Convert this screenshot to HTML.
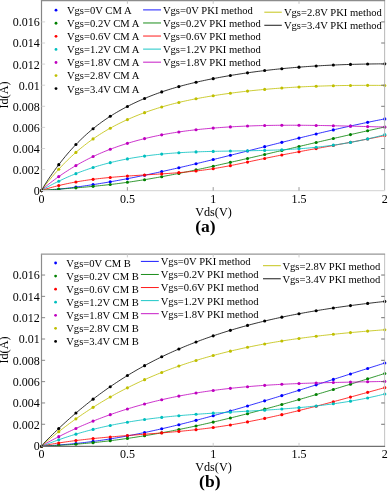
<!DOCTYPE html>
<html><head><meta charset="utf-8"><style>
html,body{margin:0;padding:0;background:#fff;}
svg{display:block;}
text{font-family:"Liberation Serif","Times New Roman",serif;fill:#000;}
.tk text{font-size:12px;}
.lg text{font-size:10.6px;}
.al{font-size:12.2px;}
.pl{font-size:17.5px;font-weight:bold;}
</style></head><body>
<svg width="388" height="491" viewBox="0 0 388 491">
<defs><filter id="bl" x="0" y="0" width="1" height="1"><feGaussianBlur stdDeviation="0.3"/></filter></defs>
<rect width="388" height="491" fill="#fff"/>
<g filter="url(#bl)">
<rect width="388" height="491" fill="#fff"/>
<polyline points="41.60,190.60 43.75,190.65 45.89,190.46 48.04,190.26 50.18,190.06 52.33,189.85 54.47,189.63 56.62,189.41 58.76,189.18 60.91,188.94 63.05,188.70 65.20,188.45 67.34,188.19 69.48,187.93 71.63,187.66 73.78,187.38 75.92,187.10 78.06,186.81 80.21,186.52 82.36,186.22 84.50,185.91 86.65,185.60 88.79,185.28 90.94,184.96 93.08,184.63 95.22,184.30 97.37,183.96 99.52,183.61 101.66,183.26 103.81,182.91 105.95,182.55 108.09,182.18 110.24,181.81 112.38,181.44 114.53,181.06 116.68,180.67 118.82,180.28 120.97,179.89 123.11,179.49 125.25,179.08 127.40,178.68 129.55,178.26 131.69,177.85 133.84,177.43 135.98,177.00 138.12,176.57 140.27,176.14 142.41,175.70 144.56,175.26 146.71,174.82 148.85,174.37 151.00,173.92 153.14,173.46 155.29,173.00 157.43,172.54 159.57,172.07 161.72,171.61 163.87,171.13 166.01,170.66 168.16,170.18 170.30,169.70 172.44,169.21 174.59,168.73 176.74,168.24 178.88,167.75 181.02,167.25 183.17,166.75 185.31,166.25 187.46,165.75 189.60,165.24 191.75,164.74 193.90,164.23 196.04,163.72 198.19,163.20 200.33,162.69 202.47,162.17 204.62,161.65 206.76,161.13 208.91,160.61 211.06,160.08 213.20,159.56 215.34,159.03 217.49,158.50 219.63,157.97 221.78,157.44 223.92,156.91 226.07,156.37 228.22,155.84 230.36,155.30 232.50,154.77 234.65,154.23 236.79,153.69 238.94,153.15 241.09,152.62 243.23,152.08 245.38,151.54 247.52,151.00 249.67,150.45 251.81,149.91 253.95,149.37 256.10,148.83 258.25,148.29 260.39,147.75 262.54,147.21 264.68,146.67 266.82,146.12 268.97,145.58 271.12,145.04 273.26,144.50 275.41,143.97 277.55,143.43 279.70,142.89 281.84,142.35 283.99,141.82 286.13,141.28 288.27,140.75 290.42,140.21 292.56,139.68 294.71,139.15 296.86,138.62 299.00,138.09 301.15,137.57 303.29,137.04 305.44,136.52 307.58,136.00 309.73,135.48 311.87,134.96 314.02,134.44 316.16,133.93 318.31,133.41 320.45,132.90 322.60,132.40 324.74,131.89 326.89,131.39 329.03,130.88 331.18,130.38 333.32,129.89 335.47,129.39 337.61,128.90 339.75,128.41 341.90,127.93 344.05,127.44 346.19,126.96 348.34,126.49 350.48,126.01 352.62,125.54 354.77,125.07 356.92,124.61 359.06,124.15 361.21,123.69 363.35,123.24 365.50,122.79 367.64,122.34 369.79,121.90 371.93,121.46 374.07,121.02 376.22,120.59 378.37,120.16 380.51,119.74 382.66,119.32 384.80,118.91" fill="none" stroke="#0000ff" stroke-width="0.8"/>
<g fill="#0000ff"><circle cx="41.60" cy="190.60" r="1.55"/><circle cx="58.76" cy="189.18" r="1.55"/><circle cx="75.92" cy="187.10" r="1.55"/><circle cx="93.08" cy="184.63" r="1.55"/><circle cx="110.24" cy="181.81" r="1.55"/><circle cx="127.40" cy="178.68" r="1.55"/><circle cx="144.56" cy="175.26" r="1.55"/><circle cx="161.72" cy="171.61" r="1.55"/><circle cx="178.88" cy="167.75" r="1.55"/><circle cx="196.04" cy="163.72" r="1.55"/><circle cx="213.20" cy="159.56" r="1.55"/><circle cx="230.36" cy="155.30" r="1.55"/><circle cx="247.52" cy="151.00" r="1.55"/><circle cx="264.68" cy="146.67" r="1.55"/><circle cx="281.84" cy="142.35" r="1.55"/><circle cx="299.00" cy="138.09" r="1.55"/><circle cx="316.16" cy="133.93" r="1.55"/><circle cx="333.32" cy="129.89" r="1.55"/><circle cx="350.48" cy="126.01" r="1.55"/><circle cx="367.64" cy="122.34" r="1.55"/><circle cx="384.80" cy="118.91" r="1.55"/></g>
<polyline points="41.60,190.60 43.75,190.02 45.89,189.90 48.04,189.78 50.18,189.65 52.33,189.52 54.47,189.39 56.62,189.25 58.76,189.12 60.91,188.97 63.05,188.83 65.20,188.68 67.34,188.52 69.48,188.37 71.63,188.21 73.78,188.04 75.92,187.87 78.06,187.70 80.21,187.52 82.36,187.34 84.50,187.15 86.65,186.96 88.79,186.76 90.94,186.56 93.08,186.36 95.22,186.15 97.37,185.93 99.52,185.71 101.66,185.48 103.81,185.25 105.95,185.01 108.09,184.77 110.24,184.52 112.38,184.26 114.53,184.00 116.68,183.74 118.82,183.46 120.97,183.18 123.11,182.90 125.25,182.60 127.40,182.30 129.55,182.00 131.69,181.69 133.84,181.37 135.98,181.04 138.12,180.71 140.27,180.37 142.41,180.03 144.56,179.68 146.71,179.33 148.85,178.97 151.00,178.60 153.14,178.23 155.29,177.85 157.43,177.47 159.57,177.09 161.72,176.70 163.87,176.30 166.01,175.90 168.16,175.49 170.30,175.09 172.44,174.67 174.59,174.25 176.74,173.83 178.88,173.41 181.02,172.98 183.17,172.55 185.31,172.11 187.46,171.67 189.60,171.23 191.75,170.78 193.90,170.34 196.04,169.88 198.19,169.43 200.33,168.97 202.47,168.51 204.62,168.05 206.76,167.59 208.91,167.12 211.06,166.66 213.20,166.19 215.34,165.72 217.49,165.24 219.63,164.77 221.78,164.29 223.92,163.81 226.07,163.33 228.22,162.85 230.36,162.37 232.50,161.89 234.65,161.40 236.79,160.92 238.94,160.43 241.09,159.94 243.23,159.45 245.38,158.96 247.52,158.47 249.67,157.98 251.81,157.49 253.95,156.99 256.10,156.50 258.25,156.00 260.39,155.50 262.54,155.01 264.68,154.51 266.82,154.01 268.97,153.51 271.12,153.01 273.26,152.51 275.41,152.01 277.55,151.51 279.70,151.01 281.84,150.51 283.99,150.01 286.13,149.50 288.27,149.00 290.42,148.50 292.56,148.00 294.71,147.50 296.86,146.99 299.00,146.49 301.15,145.99 303.29,145.49 305.44,144.99 307.58,144.49 309.73,143.98 311.87,143.48 314.02,142.98 316.16,142.48 318.31,141.99 320.45,141.49 322.60,140.99 324.74,140.49 326.89,140.00 329.03,139.50 331.18,139.01 333.32,138.51 335.47,138.02 337.61,137.53 339.75,137.04 341.90,136.55 344.05,136.06 346.19,135.57 348.34,135.08 350.48,134.60 352.62,134.11 354.77,133.63 356.92,133.15 359.06,132.67 361.21,132.19 363.35,131.71 365.50,131.24 367.64,130.76 369.79,130.29 371.93,129.82 374.07,129.35 376.22,128.88 378.37,128.42 380.51,127.95 382.66,127.49 384.80,127.03" fill="none" stroke="#008000" stroke-width="0.8"/>
<g fill="#008000"><circle cx="41.60" cy="190.60" r="1.55"/><circle cx="58.76" cy="189.12" r="1.55"/><circle cx="75.92" cy="187.87" r="1.55"/><circle cx="93.08" cy="186.36" r="1.55"/><circle cx="110.24" cy="184.52" r="1.55"/><circle cx="127.40" cy="182.30" r="1.55"/><circle cx="144.56" cy="179.68" r="1.55"/><circle cx="161.72" cy="176.70" r="1.55"/><circle cx="178.88" cy="173.41" r="1.55"/><circle cx="196.04" cy="169.88" r="1.55"/><circle cx="213.20" cy="166.19" r="1.55"/><circle cx="230.36" cy="162.37" r="1.55"/><circle cx="247.52" cy="158.47" r="1.55"/><circle cx="264.68" cy="154.51" r="1.55"/><circle cx="281.84" cy="150.51" r="1.55"/><circle cx="299.00" cy="146.49" r="1.55"/><circle cx="316.16" cy="142.48" r="1.55"/><circle cx="333.32" cy="138.51" r="1.55"/><circle cx="350.48" cy="134.60" r="1.55"/><circle cx="367.64" cy="130.76" r="1.55"/><circle cx="384.80" cy="127.03" r="1.55"/></g>
<polyline points="41.60,190.60 43.75,189.66 45.89,189.02 48.04,188.39 50.18,187.78 52.33,187.20 54.47,186.63 56.62,186.08 58.76,185.56 60.91,185.05 63.05,184.56 65.20,184.08 67.34,183.63 69.48,183.19 71.63,182.77 73.78,182.36 75.92,181.97 78.06,181.59 80.21,181.23 82.36,180.88 84.50,180.55 86.65,180.23 88.79,179.92 90.94,179.63 93.08,179.34 95.22,179.07 97.37,178.81 99.52,178.56 101.66,178.32 103.81,178.09 105.95,177.87 108.09,177.66 110.24,177.45 112.38,177.26 114.53,177.07 116.68,176.89 118.82,176.71 120.97,176.54 123.11,176.38 125.25,176.22 127.40,176.07 129.55,175.92 131.69,175.77 133.84,175.63 135.98,175.49 138.12,175.35 140.27,175.22 142.41,175.09 144.56,174.96 146.71,174.82 148.85,174.69 151.00,174.56 153.14,174.43 155.29,174.30 157.43,174.17 159.57,174.03 161.72,173.89 163.87,173.75 166.01,173.61 168.16,173.46 170.30,173.30 172.44,173.15 174.59,172.99 176.74,172.82 178.88,172.64 181.02,172.46 183.17,172.28 185.31,172.08 187.46,171.88 189.60,171.67 191.75,171.45 193.90,171.22 196.04,170.99 198.19,170.74 200.33,170.48 202.47,170.21 204.62,169.93 206.76,169.64 208.91,169.34 211.06,169.02 213.20,168.69 215.34,168.35 217.49,167.99 219.63,167.62 221.78,167.24 223.92,166.85 226.07,166.45 228.22,166.04 230.36,165.63 232.50,165.20 234.65,164.77 236.79,164.33 238.94,163.89 241.09,163.44 243.23,162.99 245.38,162.53 247.52,162.08 249.67,161.62 251.81,161.16 253.95,160.70 256.10,160.24 258.25,159.79 260.39,159.33 262.54,158.88 264.68,158.43 266.82,157.99 268.97,157.55 271.12,157.11 273.26,156.68 275.41,156.25 277.55,155.83 279.70,155.41 281.84,154.99 283.99,154.57 286.13,154.16 288.27,153.75 290.42,153.34 292.56,152.94 294.71,152.54 296.86,152.14 299.00,151.74 301.15,151.34 303.29,150.94 305.44,150.55 307.58,150.15 309.73,149.76 311.87,149.37 314.02,148.98 316.16,148.59 318.31,148.20 320.45,147.81 322.60,147.42 324.74,147.03 326.89,146.64 329.03,146.25 331.18,145.86 333.32,145.46 335.47,145.07 337.61,144.68 339.75,144.29 341.90,143.89 344.05,143.50 346.19,143.10 348.34,142.70 350.48,142.30 352.62,141.90 354.77,141.49 356.92,141.09 359.06,140.68 361.21,140.27 363.35,139.86 365.50,139.44 367.64,139.03 369.79,138.61 371.93,138.18 374.07,137.76 376.22,137.33 378.37,136.89 380.51,136.46 382.66,136.02 384.80,135.57" fill="none" stroke="#ff0000" stroke-width="0.8"/>
<g fill="#ff0000"><circle cx="41.60" cy="190.60" r="1.55"/><circle cx="58.76" cy="185.56" r="1.55"/><circle cx="75.92" cy="181.97" r="1.55"/><circle cx="93.08" cy="179.34" r="1.55"/><circle cx="110.24" cy="177.45" r="1.55"/><circle cx="127.40" cy="176.07" r="1.55"/><circle cx="144.56" cy="174.96" r="1.55"/><circle cx="161.72" cy="173.89" r="1.55"/><circle cx="178.88" cy="172.64" r="1.55"/><circle cx="196.04" cy="170.99" r="1.55"/><circle cx="213.20" cy="168.69" r="1.55"/><circle cx="230.36" cy="165.63" r="1.55"/><circle cx="247.52" cy="162.08" r="1.55"/><circle cx="264.68" cy="158.43" r="1.55"/><circle cx="281.84" cy="154.99" r="1.55"/><circle cx="299.00" cy="151.74" r="1.55"/><circle cx="316.16" cy="148.59" r="1.55"/><circle cx="333.32" cy="145.46" r="1.55"/><circle cx="350.48" cy="142.30" r="1.55"/><circle cx="367.64" cy="139.03" r="1.55"/><circle cx="384.80" cy="135.57" r="1.55"/></g>
<polyline points="41.60,190.60 43.75,189.08 45.89,187.88 48.04,186.70 50.18,185.55 52.33,184.42 54.47,183.32 56.62,182.25 58.76,181.19 60.91,180.17 63.05,179.17 65.20,178.19 67.34,177.23 69.48,176.30 71.63,175.39 73.78,174.51 75.92,173.64 78.06,172.80 80.21,171.98 82.36,171.19 84.50,170.41 86.65,169.66 88.79,168.92 90.94,168.21 93.08,167.51 95.22,166.84 97.37,166.18 99.52,165.55 101.66,164.93 103.81,164.33 105.95,163.75 108.09,163.19 110.24,162.65 112.38,162.12 114.53,161.61 116.68,161.11 118.82,160.64 120.97,160.18 123.11,159.73 125.25,159.30 127.40,158.89 129.55,158.49 131.69,158.10 133.84,157.73 135.98,157.38 138.12,157.04 140.27,156.71 142.41,156.39 144.56,156.09 146.71,155.80 148.85,155.52 151.00,155.25 153.14,155.00 155.29,154.76 157.43,154.52 159.57,154.30 161.72,154.09 163.87,153.89 166.01,153.70 168.16,153.52 170.30,153.35 172.44,153.18 174.59,153.03 176.74,152.88 178.88,152.74 181.02,152.61 183.17,152.49 185.31,152.37 187.46,152.26 189.60,152.16 191.75,152.06 193.90,151.97 196.04,151.89 198.19,151.81 200.33,151.74 202.47,151.67 204.62,151.60 206.76,151.54 208.91,151.48 211.06,151.43 213.20,151.38 215.34,151.33 217.49,151.29 219.63,151.24 221.78,151.20 223.92,151.16 226.07,151.13 228.22,151.09 230.36,151.06 232.50,151.02 234.65,150.99 236.79,150.95 238.94,150.92 241.09,150.89 243.23,150.85 245.38,150.81 247.52,150.78 249.67,150.74 251.81,150.70 253.95,150.66 256.10,150.61 258.25,150.56 260.39,150.51 262.54,150.46 264.68,150.40 266.82,150.34 268.97,150.27 271.12,150.20 273.26,150.13 275.41,150.05 277.55,149.97 279.70,149.88 281.84,149.78 283.99,149.68 286.13,149.57 288.27,149.46 290.42,149.34 292.56,149.21 294.71,149.07 296.86,148.93 299.00,148.78 301.15,148.62 303.29,148.45 305.44,148.27 307.58,148.09 309.73,147.89 311.87,147.69 314.02,147.48 316.16,147.26 318.31,147.03 320.45,146.79 322.60,146.54 324.74,146.28 326.89,146.01 329.03,145.73 331.18,145.44 333.32,145.14 335.47,144.84 337.61,144.52 339.75,144.19 341.90,143.85 344.05,143.50 346.19,143.14 348.34,142.76 350.48,142.38 352.62,141.99 354.77,141.58 356.92,141.16 359.06,140.73 361.21,140.29 363.35,139.84 365.50,139.38 367.64,138.90 369.79,138.41 371.93,137.91 374.07,137.40 376.22,136.87 378.37,136.33 380.51,135.78 382.66,135.22 384.80,134.64" fill="none" stroke="#00bfbf" stroke-width="0.8"/>
<g fill="#00bfbf"><circle cx="41.60" cy="190.60" r="1.55"/><circle cx="58.76" cy="181.19" r="1.55"/><circle cx="75.92" cy="173.64" r="1.55"/><circle cx="93.08" cy="167.51" r="1.55"/><circle cx="110.24" cy="162.65" r="1.55"/><circle cx="127.40" cy="158.89" r="1.55"/><circle cx="144.56" cy="156.09" r="1.55"/><circle cx="161.72" cy="154.09" r="1.55"/><circle cx="178.88" cy="152.74" r="1.55"/><circle cx="196.04" cy="151.89" r="1.55"/><circle cx="213.20" cy="151.38" r="1.55"/><circle cx="230.36" cy="151.06" r="1.55"/><circle cx="247.52" cy="150.78" r="1.55"/><circle cx="264.68" cy="150.40" r="1.55"/><circle cx="281.84" cy="149.78" r="1.55"/><circle cx="299.00" cy="148.78" r="1.55"/><circle cx="316.16" cy="147.26" r="1.55"/><circle cx="333.32" cy="145.14" r="1.55"/><circle cx="350.48" cy="142.38" r="1.55"/><circle cx="367.64" cy="138.90" r="1.55"/><circle cx="384.80" cy="134.64" r="1.55"/></g>
<polyline points="41.60,190.60 43.75,188.12 45.89,186.36 48.04,184.64 50.18,182.96 52.33,181.32 54.47,179.71 56.62,178.14 58.76,176.61 60.91,175.11 63.05,173.65 65.20,172.23 67.34,170.83 69.48,169.47 71.63,168.15 73.78,166.85 75.92,165.59 78.06,164.36 80.21,163.16 82.36,161.99 84.50,160.85 86.65,159.74 88.79,158.65 90.94,157.60 93.08,156.57 95.22,155.57 97.37,154.59 99.52,153.64 101.66,152.72 103.81,151.82 105.95,150.94 108.09,150.09 110.24,149.26 112.38,148.45 114.53,147.66 116.68,146.90 118.82,146.15 120.97,145.43 123.11,144.72 125.25,144.03 127.40,143.36 129.55,142.71 131.69,142.08 133.84,141.46 135.98,140.86 138.12,140.28 140.27,139.71 142.41,139.16 144.56,138.62 146.71,138.10 148.85,137.60 151.00,137.11 153.14,136.63 155.29,136.17 157.43,135.72 159.57,135.29 161.72,134.87 163.87,134.46 166.01,134.07 168.16,133.69 170.30,133.32 172.44,132.96 174.59,132.61 176.74,132.28 178.88,131.96 181.02,131.65 183.17,131.35 185.31,131.05 187.46,130.77 189.60,130.50 191.75,130.24 193.90,129.99 196.04,129.75 198.19,129.52 200.33,129.29 202.47,129.07 204.62,128.86 206.76,128.66 208.91,128.47 211.06,128.28 213.20,128.10 215.34,127.93 217.49,127.76 219.63,127.60 221.78,127.44 223.92,127.29 226.07,127.15 228.22,127.01 230.36,126.88 232.50,126.76 234.65,126.64 236.79,126.53 238.94,126.42 241.09,126.32 243.23,126.22 245.38,126.13 247.52,126.04 249.67,125.96 251.81,125.88 253.95,125.81 256.10,125.74 258.25,125.68 260.39,125.62 262.54,125.57 264.68,125.52 266.82,125.47 268.97,125.43 271.12,125.40 273.26,125.36 275.41,125.34 277.55,125.31 279.70,125.29 281.84,125.27 283.99,125.26 286.13,125.25 288.27,125.25 290.42,125.24 292.56,125.24 294.71,125.25 296.86,125.25 299.00,125.26 301.15,125.27 303.29,125.29 305.44,125.31 307.58,125.33 309.73,125.35 311.87,125.38 314.02,125.40 316.16,125.43 318.31,125.46 320.45,125.50 322.60,125.53 324.74,125.57 326.89,125.61 329.03,125.65 331.18,125.70 333.32,125.74 335.47,125.79 337.61,125.83 339.75,125.88 341.90,125.93 344.05,125.98 346.19,126.03 348.34,126.09 350.48,126.14 352.62,126.19 354.77,126.25 356.92,126.30 359.06,126.36 361.21,126.41 363.35,126.47 365.50,126.52 367.64,126.58 369.79,126.64 371.93,126.69 374.07,126.75 376.22,126.80 378.37,126.86 380.51,126.91 382.66,126.97 384.80,127.02" fill="none" stroke="#bf00bf" stroke-width="0.8"/>
<g fill="#bf00bf"><circle cx="41.60" cy="190.60" r="1.55"/><circle cx="58.76" cy="176.61" r="1.55"/><circle cx="75.92" cy="165.59" r="1.55"/><circle cx="93.08" cy="156.57" r="1.55"/><circle cx="110.24" cy="149.26" r="1.55"/><circle cx="127.40" cy="143.36" r="1.55"/><circle cx="144.56" cy="138.62" r="1.55"/><circle cx="161.72" cy="134.87" r="1.55"/><circle cx="178.88" cy="131.96" r="1.55"/><circle cx="196.04" cy="129.75" r="1.55"/><circle cx="213.20" cy="128.10" r="1.55"/><circle cx="230.36" cy="126.88" r="1.55"/><circle cx="247.52" cy="126.04" r="1.55"/><circle cx="264.68" cy="125.52" r="1.55"/><circle cx="281.84" cy="125.27" r="1.55"/><circle cx="299.00" cy="125.26" r="1.55"/><circle cx="316.16" cy="125.43" r="1.55"/><circle cx="333.32" cy="125.74" r="1.55"/><circle cx="350.48" cy="126.14" r="1.55"/><circle cx="367.64" cy="126.58" r="1.55"/><circle cx="384.80" cy="127.02" r="1.55"/></g>
<polyline points="41.60,190.60 43.75,187.17 45.89,184.41 48.04,181.71 50.18,179.08 52.33,176.52 54.47,174.02 56.62,171.59 58.76,169.22 60.91,166.91 63.05,164.66 65.20,162.47 67.34,160.34 69.48,158.27 71.63,156.26 73.78,154.29 75.92,152.39 78.06,150.53 80.21,148.73 82.36,146.97 84.50,145.27 86.65,143.61 88.79,142.00 90.94,140.43 93.08,138.91 95.22,137.44 97.37,136.00 99.52,134.60 101.66,133.25 103.81,131.93 105.95,130.65 108.09,129.40 110.24,128.19 112.38,127.01 114.53,125.87 116.68,124.76 118.82,123.67 120.97,122.62 123.11,121.59 125.25,120.59 127.40,119.61 129.55,118.66 131.69,117.73 133.84,116.83 135.98,115.95 138.12,115.09 140.27,114.25 142.41,113.43 144.56,112.64 146.71,111.86 148.85,111.11 151.00,110.37 153.14,109.66 155.29,108.96 157.43,108.28 159.57,107.62 161.72,106.98 163.87,106.36 166.01,105.75 168.16,105.16 170.30,104.58 172.44,104.02 174.59,103.47 176.74,102.94 178.88,102.43 181.02,101.92 183.17,101.44 185.31,100.96 187.46,100.50 189.60,100.04 191.75,99.60 193.90,99.18 196.04,98.76 198.19,98.35 200.33,97.95 202.47,97.56 204.62,97.19 206.76,96.82 208.91,96.45 211.06,96.10 213.20,95.75 215.34,95.41 217.49,95.08 219.63,94.76 221.78,94.44 223.92,94.13 226.07,93.82 228.22,93.52 230.36,93.23 232.50,92.94 234.65,92.66 236.79,92.39 238.94,92.13 241.09,91.87 243.23,91.61 245.38,91.36 247.52,91.12 249.67,90.89 251.81,90.66 253.95,90.43 256.10,90.21 258.25,90.00 260.39,89.80 262.54,89.59 264.68,89.40 266.82,89.21 268.97,89.02 271.12,88.85 273.26,88.67 275.41,88.50 277.55,88.34 279.70,88.18 281.84,88.03 283.99,87.88 286.13,87.74 288.27,87.60 290.42,87.47 292.56,87.34 294.71,87.21 296.86,87.09 299.00,86.98 301.15,86.87 303.29,86.76 305.44,86.66 307.58,86.56 309.73,86.47 311.87,86.38 314.02,86.30 316.16,86.22 318.31,86.14 320.45,86.07 322.60,86.00 324.74,85.94 326.89,85.88 329.03,85.82 331.18,85.77 333.32,85.72 335.47,85.67 337.61,85.63 339.75,85.59 341.90,85.55 344.05,85.52 346.19,85.49 348.34,85.46 350.48,85.44 352.62,85.42 354.77,85.40 356.92,85.38 359.06,85.37 361.21,85.36 363.35,85.36 365.50,85.35 367.64,85.35 369.79,85.35 371.93,85.36 374.07,85.36 376.22,85.37 378.37,85.38 380.51,85.40 382.66,85.41 384.80,85.43" fill="none" stroke="#bfbf00" stroke-width="0.8"/>
<g fill="#bfbf00"><circle cx="41.60" cy="190.60" r="1.55"/><circle cx="58.76" cy="169.22" r="1.55"/><circle cx="75.92" cy="152.39" r="1.55"/><circle cx="93.08" cy="138.91" r="1.55"/><circle cx="110.24" cy="128.19" r="1.55"/><circle cx="127.40" cy="119.61" r="1.55"/><circle cx="144.56" cy="112.64" r="1.55"/><circle cx="161.72" cy="106.98" r="1.55"/><circle cx="178.88" cy="102.43" r="1.55"/><circle cx="196.04" cy="98.76" r="1.55"/><circle cx="213.20" cy="95.75" r="1.55"/><circle cx="230.36" cy="93.23" r="1.55"/><circle cx="247.52" cy="91.12" r="1.55"/><circle cx="264.68" cy="89.40" r="1.55"/><circle cx="281.84" cy="88.03" r="1.55"/><circle cx="299.00" cy="86.98" r="1.55"/><circle cx="316.16" cy="86.22" r="1.55"/><circle cx="333.32" cy="85.72" r="1.55"/><circle cx="350.48" cy="85.44" r="1.55"/><circle cx="367.64" cy="85.35" r="1.55"/><circle cx="384.80" cy="85.43" r="1.55"/></g>
<polyline points="41.60,190.60 43.75,186.47 45.89,183.10 48.04,179.81 50.18,176.61 52.33,173.50 54.47,170.47 56.62,167.53 58.76,164.67 60.91,161.89 63.05,159.19 65.20,156.57 67.34,154.02 69.48,151.54 71.63,149.14 73.78,146.81 75.92,144.54 78.06,142.35 80.21,140.22 82.36,138.15 84.50,136.14 86.65,134.20 88.79,132.31 90.94,130.48 93.08,128.71 95.22,126.99 97.37,125.32 99.52,123.70 101.66,122.13 103.81,120.60 105.95,119.13 108.09,117.69 110.24,116.30 112.38,114.95 114.53,113.63 116.68,112.36 118.82,111.12 120.97,109.91 123.11,108.73 125.25,107.59 127.40,106.47 129.55,105.38 131.69,104.32 133.84,103.28 135.98,102.27 138.12,101.28 140.27,100.32 142.41,99.38 144.56,98.46 146.71,97.57 148.85,96.70 151.00,95.85 153.14,95.02 155.29,94.22 157.43,93.43 159.57,92.67 161.72,91.92 163.87,91.20 166.01,90.49 168.16,89.80 170.30,89.13 172.44,88.47 174.59,87.83 176.74,87.21 178.88,86.61 181.02,86.01 183.17,85.44 185.31,84.87 187.46,84.33 189.60,83.79 191.75,83.27 193.90,82.76 196.04,82.26 198.19,81.77 200.33,81.29 202.47,80.83 204.62,80.37 206.76,79.92 208.91,79.48 211.06,79.05 213.20,78.63 215.34,78.22 217.49,77.81 219.63,77.41 221.78,77.01 223.92,76.63 226.07,76.25 228.22,75.88 230.36,75.51 232.50,75.15 234.65,74.80 236.79,74.46 238.94,74.12 241.09,73.79 243.23,73.46 245.38,73.15 247.52,72.83 249.67,72.53 251.81,72.23 253.95,71.94 256.10,71.65 258.25,71.37 260.39,71.10 262.54,70.83 264.68,70.57 266.82,70.32 268.97,70.07 271.12,69.82 273.26,69.58 275.41,69.35 277.55,69.13 279.70,68.91 281.84,68.69 283.99,68.48 286.13,68.28 288.27,68.08 290.42,67.88 292.56,67.70 294.71,67.51 296.86,67.34 299.00,67.16 301.15,67.00 303.29,66.84 305.44,66.68 307.58,66.53 309.73,66.38 311.87,66.24 314.02,66.10 316.16,65.96 318.31,65.84 320.45,65.71 322.60,65.59 324.74,65.48 326.89,65.37 329.03,65.26 331.18,65.16 333.32,65.06 335.47,64.97 337.61,64.88 339.75,64.79 341.90,64.71 344.05,64.63 346.19,64.56 348.34,64.49 350.48,64.42 352.62,64.36 354.77,64.30 356.92,64.25 359.06,64.20 361.21,64.15 363.35,64.11 365.50,64.06 367.64,64.03 369.79,63.99 371.93,63.96 374.07,63.93 376.22,63.91 378.37,63.89 380.51,63.87 382.66,63.85 384.80,63.84" fill="none" stroke="#000000" stroke-width="0.8"/>
<g fill="#000000"><circle cx="41.60" cy="190.60" r="1.55"/><circle cx="58.76" cy="164.67" r="1.55"/><circle cx="75.92" cy="144.54" r="1.55"/><circle cx="93.08" cy="128.71" r="1.55"/><circle cx="110.24" cy="116.30" r="1.55"/><circle cx="127.40" cy="106.47" r="1.55"/><circle cx="144.56" cy="98.46" r="1.55"/><circle cx="161.72" cy="91.92" r="1.55"/><circle cx="178.88" cy="86.61" r="1.55"/><circle cx="196.04" cy="82.26" r="1.55"/><circle cx="213.20" cy="78.63" r="1.55"/><circle cx="230.36" cy="75.51" r="1.55"/><circle cx="247.52" cy="72.83" r="1.55"/><circle cx="264.68" cy="70.57" r="1.55"/><circle cx="281.84" cy="68.69" r="1.55"/><circle cx="299.00" cy="67.16" r="1.55"/><circle cx="316.16" cy="65.96" r="1.55"/><circle cx="333.32" cy="65.06" r="1.55"/><circle cx="350.48" cy="64.42" r="1.55"/><circle cx="367.64" cy="64.03" r="1.55"/><circle cx="384.80" cy="63.84" r="1.55"/></g>
<line x1="41.5" x2="41.5" y1="0.6" y2="190.6" stroke="#858585" stroke-width="1.2"/>
<line x1="384.6" x2="384.6" y1="0.6" y2="190.6" stroke="#bdbdbd" stroke-width="1.1"/>
<line x1="40.9" x2="385.1" y1="0.6" y2="0.6" stroke="#8c8c8c" stroke-width="1.2"/>
<line x1="40.9" x2="385.1" y1="190.6" y2="190.6" stroke="#dadada" stroke-width="1.3"/>
<path d="M41.5,169.60h3.6M41.5,148.50h3.6M41.5,127.40h3.6M41.5,106.30h3.6M41.5,85.20h3.6M41.5,64.10h3.6M41.5,43.00h3.6M41.5,21.90h3.6" stroke="#cfcfcf" stroke-width="0.9" fill="none"/>
<path d="M384.6,169.60h-3.4M384.6,148.50h-3.4M384.6,127.40h-3.4M384.6,106.30h-3.4M384.6,85.20h-3.4M384.6,64.10h-3.4M384.6,43.00h-3.4M384.6,21.90h-3.4" stroke="#6a6a6a" stroke-width="0.9" fill="none"/>
<path d="M127.40,190.6v-3.5M213.20,190.6v-3.5M299.00,190.6v-3.5" stroke="#8f8f8f" stroke-width="0.9" fill="none"/>
<path d="M127.40,0.6v3.2M213.20,0.6v3.2M299.00,0.6v3.2" stroke="#bdbdbd" stroke-width="0.9" fill="none"/>
<g class="tk"><text x="39.8" y="195.10" text-anchor="end">0</text>
<text x="39.8" y="174.00" text-anchor="end">0.002</text>
<text x="39.8" y="152.90" text-anchor="end">0.004</text>
<text x="39.8" y="131.80" text-anchor="end">0.006</text>
<text x="39.8" y="110.70" text-anchor="end">0.008</text>
<text x="39.8" y="89.60" text-anchor="end">0.01</text>
<text x="39.8" y="68.50" text-anchor="end">0.012</text>
<text x="39.8" y="47.40" text-anchor="end">0.014</text>
<text x="39.8" y="26.30" text-anchor="end">0.016</text><text x="41.60" y="202.60" text-anchor="middle">0</text>
<text x="127.40" y="202.60" text-anchor="middle">0.5</text>
<text x="213.20" y="202.60" text-anchor="middle">1</text>
<text x="299.00" y="202.60" text-anchor="middle">1.5</text>
<text x="384.80" y="202.60" text-anchor="middle">2</text></g>
<g class="lg"><circle cx="56.0" cy="10.20" r="1.4" fill="#0000ff"/>
<text x="66.9" y="14.10">Vgs=0V CM A</text>
<circle cx="56.0" cy="23.27" r="1.4" fill="#008000"/>
<text x="66.9" y="27.17">Vgs=0.2V CM A</text>
<circle cx="56.0" cy="36.34" r="1.4" fill="#ff0000"/>
<text x="66.9" y="40.24">Vgs=0.6V CM A</text>
<circle cx="56.0" cy="49.41" r="1.4" fill="#00bfbf"/>
<text x="66.9" y="53.31">Vgs=1.2V CM A</text>
<circle cx="56.0" cy="62.48" r="1.4" fill="#bf00bf"/>
<text x="66.9" y="66.38">Vgs=1.8V CM A</text>
<circle cx="56.0" cy="75.55" r="1.4" fill="#bfbf00"/>
<text x="66.9" y="79.45">Vgs=2.8V CM A</text>
<circle cx="56.0" cy="88.62" r="1.4" fill="#000000"/>
<text x="66.9" y="92.52">Vgs=3.4V CM A</text>
<line x1="143.1" x2="161.0" y1="9.90" y2="9.90" stroke="#0000ff" stroke-width="0.9"/>
<text x="162.9" y="13.80">Vgs=0V PKI method</text>
<line x1="143.1" x2="161.0" y1="22.97" y2="22.97" stroke="#008000" stroke-width="0.9"/>
<text x="162.9" y="26.87">Vgs=0.2V PKI method</text>
<line x1="143.1" x2="161.0" y1="36.04" y2="36.04" stroke="#ff0000" stroke-width="0.9"/>
<text x="162.9" y="39.94">Vgs=0.6V PKI method</text>
<line x1="143.1" x2="161.0" y1="49.11" y2="49.11" stroke="#00bfbf" stroke-width="0.9"/>
<text x="162.9" y="53.01">Vgs=1.2V PKI method</text>
<line x1="143.1" x2="161.0" y1="62.18" y2="62.18" stroke="#bf00bf" stroke-width="0.9"/>
<text x="162.9" y="66.08">Vgs=1.8V PKI method</text>
<line x1="264.3" x2="281.8" y1="12.20" y2="12.20" stroke="#bfbf00" stroke-width="0.9"/>
<text x="283.9" y="16.10">Vgs=2.8V PKI method</text>
<line x1="264.3" x2="281.8" y1="25.27" y2="25.27" stroke="#000000" stroke-width="0.9"/>
<text x="283.9" y="29.17">Vgs=3.4V PKI method</text></g>
<text class="al" x="213.5" y="215.60" text-anchor="middle">Vds(V)</text>
<text class="al" transform="translate(7.8,95.0) rotate(-90)" text-anchor="middle">Id(A)</text>
<text class="pl" x="205.5" y="231.60" text-anchor="middle">(a)</text>
<polyline points="41.60,446.30 43.75,445.91 45.89,445.80 48.04,445.69 50.18,445.57 52.33,445.45 54.47,445.31 56.62,445.16 58.76,445.01 60.91,444.85 63.05,444.67 65.20,444.49 67.34,444.31 69.48,444.11 71.63,443.91 73.78,443.69 75.92,443.47 78.06,443.24 80.21,443.01 82.36,442.76 84.50,442.51 86.65,442.25 88.79,441.98 90.94,441.71 93.08,441.42 95.22,441.13 97.37,440.84 99.52,440.53 101.66,440.22 103.81,439.90 105.95,439.57 108.09,439.24 110.24,438.90 112.38,438.55 114.53,438.19 116.68,437.83 118.82,437.46 120.97,437.09 123.11,436.71 125.25,436.32 127.40,435.92 129.55,435.52 131.69,435.11 133.84,434.70 135.98,434.28 138.12,433.85 140.27,433.42 142.41,432.98 144.56,432.54 146.71,432.09 148.85,431.63 151.00,431.17 153.14,430.71 155.29,430.23 157.43,429.76 159.57,429.27 161.72,428.78 163.87,428.29 166.01,427.79 168.16,427.29 170.30,426.78 172.44,426.27 174.59,425.75 176.74,425.23 178.88,424.70 181.02,424.17 183.17,423.64 185.31,423.10 187.46,422.55 189.60,422.01 191.75,421.46 193.90,420.90 196.04,420.34 198.19,419.78 200.33,419.21 202.47,418.64 204.62,418.07 206.76,417.49 208.91,416.91 211.06,416.32 213.20,415.74 215.34,415.15 217.49,414.55 219.63,413.96 221.78,413.36 223.92,412.76 226.07,412.15 228.22,411.55 230.36,410.94 232.50,410.32 234.65,409.71 236.79,409.09 238.94,408.47 241.09,407.85 243.23,407.22 245.38,406.59 247.52,405.96 249.67,405.33 251.81,404.70 253.95,404.06 256.10,403.42 258.25,402.78 260.39,402.14 262.54,401.49 264.68,400.85 266.82,400.20 268.97,399.55 271.12,398.89 273.26,398.24 275.41,397.58 277.55,396.93 279.70,396.27 281.84,395.61 283.99,394.94 286.13,394.28 288.27,393.62 290.42,392.95 292.56,392.28 294.71,391.61 296.86,390.94 299.00,390.27 301.15,389.60 303.29,388.93 305.44,388.25 307.58,387.58 309.73,386.90 311.87,386.22 314.02,385.55 316.16,384.87 318.31,384.19 320.45,383.51 322.60,382.83 324.74,382.15 326.89,381.46 329.03,380.78 331.18,380.10 333.32,379.42 335.47,378.73 337.61,378.05 339.75,377.37 341.90,376.68 344.05,376.00 346.19,375.31 348.34,374.63 350.48,373.95 352.62,373.26 354.77,372.58 356.92,371.89 359.06,371.21 361.21,370.53 363.35,369.84 365.50,369.16 367.64,368.48 369.79,367.80 371.93,367.12 374.07,366.43 376.22,365.75 378.37,365.08 380.51,364.40 382.66,363.72 384.80,363.04" fill="none" stroke="#0000ff" stroke-width="0.8"/>
<g fill="#0000ff"><circle cx="41.60" cy="446.30" r="1.55"/><circle cx="58.76" cy="445.01" r="1.55"/><circle cx="75.92" cy="443.47" r="1.55"/><circle cx="93.08" cy="441.42" r="1.55"/><circle cx="110.24" cy="438.90" r="1.55"/><circle cx="127.40" cy="435.92" r="1.55"/><circle cx="144.56" cy="432.54" r="1.55"/><circle cx="161.72" cy="428.78" r="1.55"/><circle cx="178.88" cy="424.70" r="1.55"/><circle cx="196.04" cy="420.34" r="1.55"/><circle cx="213.20" cy="415.74" r="1.55"/><circle cx="230.36" cy="410.94" r="1.55"/><circle cx="247.52" cy="405.96" r="1.55"/><circle cx="264.68" cy="400.85" r="1.55"/><circle cx="281.84" cy="395.61" r="1.55"/><circle cx="299.00" cy="390.27" r="1.55"/><circle cx="316.16" cy="384.87" r="1.55"/><circle cx="333.32" cy="379.42" r="1.55"/><circle cx="350.48" cy="373.95" r="1.55"/><circle cx="367.64" cy="368.48" r="1.55"/><circle cx="384.80" cy="363.04" r="1.55"/></g>
<polyline points="41.60,446.30 43.75,445.98 45.89,445.91 48.04,445.84 50.18,445.75 52.33,445.66 54.47,445.56 56.62,445.45 58.76,445.34 60.91,445.22 63.05,445.10 65.20,444.97 67.34,444.83 69.48,444.68 71.63,444.53 73.78,444.37 75.92,444.21 78.06,444.03 80.21,443.86 82.36,443.67 84.50,443.48 86.65,443.29 88.79,443.08 90.94,442.88 93.08,442.66 95.22,442.44 97.37,442.21 99.52,441.98 101.66,441.74 103.81,441.50 105.95,441.25 108.09,440.99 110.24,440.73 112.38,440.46 114.53,440.18 116.68,439.90 118.82,439.62 120.97,439.33 123.11,439.03 125.25,438.73 127.40,438.42 129.55,438.11 131.69,437.79 133.84,437.47 135.98,437.14 138.12,436.81 140.27,436.47 142.41,436.12 144.56,435.77 146.71,435.42 148.85,435.06 151.00,434.69 153.14,434.32 155.29,433.95 157.43,433.57 159.57,433.18 161.72,432.79 163.87,432.40 166.01,432.00 168.16,431.59 170.30,431.19 172.44,430.77 174.59,430.35 176.74,429.93 178.88,429.50 181.02,429.07 183.17,428.64 185.31,428.20 187.46,427.75 189.60,427.30 191.75,426.85 193.90,426.39 196.04,425.93 198.19,425.46 200.33,424.99 202.47,424.52 204.62,424.04 206.76,423.56 208.91,423.07 211.06,422.58 213.20,422.09 215.34,421.59 217.49,421.09 219.63,420.58 221.78,420.07 223.92,419.56 226.07,419.04 228.22,418.52 230.36,418.00 232.50,417.47 234.65,416.94 236.79,416.41 238.94,415.87 241.09,415.33 243.23,414.78 245.38,414.24 247.52,413.69 249.67,413.13 251.81,412.57 253.95,412.01 256.10,411.45 258.25,410.88 260.39,410.31 262.54,409.74 264.68,409.17 266.82,408.59 268.97,408.01 271.12,407.42 273.26,406.83 275.41,406.24 277.55,405.65 279.70,405.06 281.84,404.46 283.99,403.86 286.13,403.26 288.27,402.65 290.42,402.04 292.56,401.43 294.71,400.82 296.86,400.21 299.00,399.59 301.15,398.97 303.29,398.35 305.44,397.72 307.58,397.10 309.73,396.47 311.87,395.84 314.02,395.21 316.16,394.57 318.31,393.94 320.45,393.30 322.60,392.66 324.74,392.02 326.89,391.37 329.03,390.73 331.18,390.08 333.32,389.43 335.47,388.78 337.61,388.13 339.75,387.47 341.90,386.82 344.05,386.16 346.19,385.51 348.34,384.85 350.48,384.19 352.62,383.52 354.77,382.86 356.92,382.20 359.06,381.53 361.21,380.86 363.35,380.20 365.50,379.53 367.64,378.86 369.79,378.19 371.93,377.51 374.07,376.84 376.22,376.17 378.37,375.49 380.51,374.82 382.66,374.14 384.80,373.46" fill="none" stroke="#008000" stroke-width="0.8"/>
<g fill="#008000"><circle cx="41.60" cy="446.30" r="1.55"/><circle cx="58.76" cy="445.34" r="1.55"/><circle cx="75.92" cy="444.21" r="1.55"/><circle cx="93.08" cy="442.66" r="1.55"/><circle cx="110.24" cy="440.73" r="1.55"/><circle cx="127.40" cy="438.42" r="1.55"/><circle cx="144.56" cy="435.77" r="1.55"/><circle cx="161.72" cy="432.79" r="1.55"/><circle cx="178.88" cy="429.50" r="1.55"/><circle cx="196.04" cy="425.93" r="1.55"/><circle cx="213.20" cy="422.09" r="1.55"/><circle cx="230.36" cy="418.00" r="1.55"/><circle cx="247.52" cy="413.69" r="1.55"/><circle cx="264.68" cy="409.17" r="1.55"/><circle cx="281.84" cy="404.46" r="1.55"/><circle cx="299.00" cy="399.59" r="1.55"/><circle cx="316.16" cy="394.57" r="1.55"/><circle cx="333.32" cy="389.43" r="1.55"/><circle cx="350.48" cy="384.19" r="1.55"/><circle cx="367.64" cy="378.86" r="1.55"/><circle cx="384.80" cy="373.46" r="1.55"/></g>
<polyline points="41.60,446.30 43.75,445.55 45.89,445.15 48.04,444.76 50.18,444.38 52.33,444.01 54.47,443.65 56.62,443.30 58.76,442.96 60.91,442.63 63.05,442.31 65.20,442.00 67.34,441.69 69.48,441.39 71.63,441.10 73.78,440.82 75.92,440.55 78.06,440.28 80.21,440.02 82.36,439.76 84.50,439.52 86.65,439.27 88.79,439.04 90.94,438.81 93.08,438.58 95.22,438.36 97.37,438.15 99.52,437.94 101.66,437.74 103.81,437.54 105.95,437.34 108.09,437.15 110.24,436.96 112.38,436.77 114.53,436.59 116.68,436.41 118.82,436.23 120.97,436.06 123.11,435.89 125.25,435.72 127.40,435.55 129.55,435.38 131.69,435.21 133.84,435.05 135.98,434.89 138.12,434.72 140.27,434.56 142.41,434.40 144.56,434.23 146.71,434.07 148.85,433.91 151.00,433.74 153.14,433.57 155.29,433.41 157.43,433.24 159.57,433.07 161.72,432.89 163.87,432.72 166.01,432.54 168.16,432.36 170.30,432.18 172.44,431.99 174.59,431.80 176.74,431.61 178.88,431.41 181.02,431.21 183.17,431.01 185.31,430.79 187.46,430.58 189.60,430.36 191.75,430.13 193.90,429.90 196.04,429.67 198.19,429.42 200.33,429.17 202.47,428.92 204.62,428.66 206.76,428.39 208.91,428.11 211.06,427.83 213.20,427.54 215.34,427.24 217.49,426.93 219.63,426.62 221.78,426.29 223.92,425.96 226.07,425.63 228.22,425.28 230.36,424.93 232.50,424.57 234.65,424.21 236.79,423.84 238.94,423.46 241.09,423.07 243.23,422.68 245.38,422.28 247.52,421.88 249.67,421.46 251.81,421.05 253.95,420.62 256.10,420.20 258.25,419.76 260.39,419.32 262.54,418.88 264.68,418.42 266.82,417.97 268.97,417.50 271.12,417.04 273.26,416.57 275.41,416.09 277.55,415.61 279.70,415.12 281.84,414.63 283.99,414.13 286.13,413.63 288.27,413.13 290.42,412.62 292.56,412.10 294.71,411.59 296.86,411.07 299.00,410.54 301.15,410.01 303.29,409.48 305.44,408.95 307.58,408.41 309.73,407.86 311.87,407.32 314.02,406.77 316.16,406.22 318.31,405.66 320.45,405.11 322.60,404.55 324.74,403.99 326.89,403.42 329.03,402.85 331.18,402.28 333.32,401.71 335.47,401.14 337.61,400.56 339.75,399.99 341.90,399.41 344.05,398.83 346.19,398.25 348.34,397.66 350.48,397.08 352.62,396.49 354.77,395.90 356.92,395.32 359.06,394.73 361.21,394.14 363.35,393.55 365.50,392.96 367.64,392.36 369.79,391.77 371.93,391.18 374.07,390.59 376.22,390.00 378.37,389.40 380.51,388.81 382.66,388.22 384.80,387.63" fill="none" stroke="#ff0000" stroke-width="0.8"/>
<g fill="#ff0000"><circle cx="41.60" cy="446.30" r="1.55"/><circle cx="58.76" cy="442.96" r="1.55"/><circle cx="75.92" cy="440.55" r="1.55"/><circle cx="93.08" cy="438.58" r="1.55"/><circle cx="110.24" cy="436.96" r="1.55"/><circle cx="127.40" cy="435.55" r="1.55"/><circle cx="144.56" cy="434.23" r="1.55"/><circle cx="161.72" cy="432.89" r="1.55"/><circle cx="178.88" cy="431.41" r="1.55"/><circle cx="196.04" cy="429.67" r="1.55"/><circle cx="213.20" cy="427.54" r="1.55"/><circle cx="230.36" cy="424.93" r="1.55"/><circle cx="247.52" cy="421.88" r="1.55"/><circle cx="264.68" cy="418.42" r="1.55"/><circle cx="281.84" cy="414.63" r="1.55"/><circle cx="299.00" cy="410.54" r="1.55"/><circle cx="316.16" cy="406.22" r="1.55"/><circle cx="333.32" cy="401.71" r="1.55"/><circle cx="350.48" cy="397.08" r="1.55"/><circle cx="367.64" cy="392.36" r="1.55"/><circle cx="384.80" cy="387.63" r="1.55"/></g>
<polyline points="41.60,446.30 43.75,445.53 45.89,444.66 48.04,443.81 50.18,442.97 52.33,442.15 54.47,441.35 56.62,440.56 58.76,439.79 60.91,439.03 63.05,438.29 65.20,437.57 67.34,436.85 69.48,436.16 71.63,435.47 73.78,434.80 75.92,434.15 78.06,433.51 80.21,432.88 82.36,432.27 84.50,431.67 86.65,431.08 88.79,430.51 90.94,429.95 93.08,429.40 95.22,428.86 97.37,428.34 99.52,427.83 101.66,427.33 103.81,426.84 105.95,426.36 108.09,425.90 110.24,425.44 112.38,425.00 114.53,424.56 116.68,424.14 118.82,423.73 120.97,423.33 123.11,422.94 125.25,422.56 127.40,422.19 129.55,421.82 131.69,421.47 133.84,421.13 135.98,420.79 138.12,420.47 140.27,420.15 142.41,419.84 144.56,419.54 146.71,419.24 148.85,418.96 151.00,418.68 153.14,418.41 155.29,418.15 157.43,417.89 159.57,417.65 161.72,417.40 163.87,417.17 166.01,416.94 168.16,416.72 170.30,416.50 172.44,416.29 174.59,416.09 176.74,415.89 178.88,415.69 181.02,415.50 183.17,415.32 185.31,415.14 187.46,414.97 189.60,414.79 191.75,414.63 193.90,414.47 196.04,414.31 198.19,414.15 200.33,414.00 202.47,413.85 204.62,413.71 206.76,413.57 208.91,413.43 211.06,413.29 213.20,413.16 215.34,413.03 217.49,412.90 219.63,412.77 221.78,412.64 223.92,412.52 226.07,412.39 228.22,412.27 230.36,412.15 232.50,412.03 234.65,411.91 236.79,411.79 238.94,411.67 241.09,411.55 243.23,411.43 245.38,411.31 247.52,411.19 249.67,411.06 251.81,410.94 253.95,410.82 256.10,410.69 258.25,410.57 260.39,410.44 262.54,410.31 264.68,410.18 266.82,410.04 268.97,409.91 271.12,409.77 273.26,409.63 275.41,409.48 277.55,409.33 279.70,409.18 281.84,409.03 283.99,408.87 286.13,408.71 288.27,408.54 290.42,408.37 292.56,408.20 294.71,408.02 296.86,407.84 299.00,407.65 301.15,407.46 303.29,407.26 305.44,407.05 307.58,406.84 309.73,406.63 311.87,406.40 314.02,406.18 316.16,405.94 318.31,405.70 320.45,405.45 322.60,405.20 324.74,404.94 326.89,404.67 329.03,404.39 331.18,404.11 333.32,403.81 335.47,403.51 337.61,403.21 339.75,402.89 341.90,402.56 344.05,402.23 346.19,401.89 348.34,401.53 350.48,401.17 352.62,400.80 354.77,400.42 356.92,400.03 359.06,399.63 361.21,399.22 363.35,398.80 365.50,398.37 367.64,397.93 369.79,397.47 371.93,397.01 374.07,396.53 376.22,396.05 378.37,395.55 380.51,395.04 382.66,394.51 384.80,393.98" fill="none" stroke="#00bfbf" stroke-width="0.8"/>
<g fill="#00bfbf"><circle cx="41.60" cy="446.30" r="1.55"/><circle cx="58.76" cy="439.79" r="1.55"/><circle cx="75.92" cy="434.15" r="1.55"/><circle cx="93.08" cy="429.40" r="1.55"/><circle cx="110.24" cy="425.44" r="1.55"/><circle cx="127.40" cy="422.19" r="1.55"/><circle cx="144.56" cy="419.54" r="1.55"/><circle cx="161.72" cy="417.40" r="1.55"/><circle cx="178.88" cy="415.69" r="1.55"/><circle cx="196.04" cy="414.31" r="1.55"/><circle cx="213.20" cy="413.16" r="1.55"/><circle cx="230.36" cy="412.15" r="1.55"/><circle cx="247.52" cy="411.19" r="1.55"/><circle cx="264.68" cy="410.18" r="1.55"/><circle cx="281.84" cy="409.03" r="1.55"/><circle cx="299.00" cy="407.65" r="1.55"/><circle cx="316.16" cy="405.94" r="1.55"/><circle cx="333.32" cy="403.81" r="1.55"/><circle cx="350.48" cy="401.17" r="1.55"/><circle cx="367.64" cy="397.93" r="1.55"/><circle cx="384.80" cy="393.98" r="1.55"/></g>
<polyline points="41.60,446.30 43.75,444.62 45.89,443.44 48.04,442.27 50.18,441.11 52.33,439.98 54.47,438.85 56.62,437.75 58.76,436.65 60.91,435.58 63.05,434.51 65.20,433.47 67.34,432.43 69.48,431.41 71.63,430.41 73.78,429.42 75.92,428.44 78.06,427.48 80.21,426.53 82.36,425.59 84.50,424.67 86.65,423.77 88.79,422.87 90.94,421.99 93.08,421.12 95.22,420.27 97.37,419.43 99.52,418.60 101.66,417.78 103.81,416.98 105.95,416.19 108.09,415.41 110.24,414.65 112.38,413.90 114.53,413.16 116.68,412.43 118.82,411.71 120.97,411.01 123.11,410.31 125.25,409.63 127.40,408.96 129.55,408.30 131.69,407.66 133.84,407.02 135.98,406.40 138.12,405.79 140.27,405.18 142.41,404.59 144.56,404.01 146.71,403.44 148.85,402.88 151.00,402.33 153.14,401.79 155.29,401.26 157.43,400.75 159.57,400.24 161.72,399.74 163.87,399.25 166.01,398.77 168.16,398.30 170.30,397.84 172.44,397.39 174.59,396.95 176.74,396.52 178.88,396.09 181.02,395.68 183.17,395.27 185.31,394.88 187.46,394.49 189.60,394.11 191.75,393.74 193.90,393.37 196.04,393.02 198.19,392.67 200.33,392.33 202.47,392.00 204.62,391.68 206.76,391.36 208.91,391.05 211.06,390.75 213.20,390.46 215.34,390.18 217.49,389.90 219.63,389.62 221.78,389.36 223.92,389.10 226.07,388.85 228.22,388.61 230.36,388.37 232.50,388.14 234.65,387.91 236.79,387.69 238.94,387.48 241.09,387.27 243.23,387.07 245.38,386.87 247.52,386.68 249.67,386.50 251.81,386.32 253.95,386.14 256.10,385.98 258.25,385.81 260.39,385.65 262.54,385.50 264.68,385.35 266.82,385.21 268.97,385.07 271.12,384.93 273.26,384.80 275.41,384.68 277.55,384.55 279.70,384.44 281.84,384.32 283.99,384.21 286.13,384.11 288.27,384.00 290.42,383.90 292.56,383.81 294.71,383.71 296.86,383.62 299.00,383.54 301.15,383.46 303.29,383.37 305.44,383.30 307.58,383.22 309.73,383.15 311.87,383.08 314.02,383.01 316.16,382.95 318.31,382.88 320.45,382.82 322.60,382.76 324.74,382.71 326.89,382.65 329.03,382.60 331.18,382.54 333.32,382.49 335.47,382.44 337.61,382.40 339.75,382.35 341.90,382.30 344.05,382.26 346.19,382.21 348.34,382.17 350.48,382.12 352.62,382.08 354.77,382.04 356.92,382.00 359.06,381.95 361.21,381.91 363.35,381.87 365.50,381.83 367.64,381.78 369.79,381.74 371.93,381.70 374.07,381.65 376.22,381.61 378.37,381.56 380.51,381.52 382.66,381.47 384.80,381.42" fill="none" stroke="#bf00bf" stroke-width="0.8"/>
<g fill="#bf00bf"><circle cx="41.60" cy="446.30" r="1.55"/><circle cx="58.76" cy="436.65" r="1.55"/><circle cx="75.92" cy="428.44" r="1.55"/><circle cx="93.08" cy="421.12" r="1.55"/><circle cx="110.24" cy="414.65" r="1.55"/><circle cx="127.40" cy="408.96" r="1.55"/><circle cx="144.56" cy="404.01" r="1.55"/><circle cx="161.72" cy="399.74" r="1.55"/><circle cx="178.88" cy="396.09" r="1.55"/><circle cx="196.04" cy="393.02" r="1.55"/><circle cx="213.20" cy="390.46" r="1.55"/><circle cx="230.36" cy="388.37" r="1.55"/><circle cx="247.52" cy="386.68" r="1.55"/><circle cx="264.68" cy="385.35" r="1.55"/><circle cx="281.84" cy="384.32" r="1.55"/><circle cx="299.00" cy="383.54" r="1.55"/><circle cx="316.16" cy="382.95" r="1.55"/><circle cx="333.32" cy="382.49" r="1.55"/><circle cx="350.48" cy="382.12" r="1.55"/><circle cx="367.64" cy="381.78" r="1.55"/><circle cx="384.80" cy="381.42" r="1.55"/></g>
<polyline points="41.60,446.30 43.75,444.03 45.89,442.20 48.04,440.39 50.18,438.60 52.33,436.84 54.47,435.09 56.62,433.37 58.76,431.67 60.91,430.00 63.05,428.34 65.20,426.71 67.34,425.10 69.48,423.50 71.63,421.93 73.78,420.38 75.92,418.85 78.06,417.34 80.21,415.86 82.36,414.39 84.50,412.94 86.65,411.51 88.79,410.10 90.94,408.71 93.08,407.33 95.22,405.98 97.37,404.65 99.52,403.33 101.66,402.03 103.81,400.75 105.95,399.49 108.09,398.25 110.24,397.02 112.38,395.82 114.53,394.62 116.68,393.45 118.82,392.29 120.97,391.15 123.11,390.03 125.25,388.92 127.40,387.83 129.55,386.76 131.69,385.70 133.84,384.66 135.98,383.63 138.12,382.62 140.27,381.62 142.41,380.64 144.56,379.67 146.71,378.72 148.85,377.78 151.00,376.86 153.14,375.95 155.29,375.05 157.43,374.17 159.57,373.30 161.72,372.45 163.87,371.61 166.01,370.78 168.16,369.96 170.30,369.16 172.44,368.37 174.59,367.59 176.74,366.83 178.88,366.07 181.02,365.33 183.17,364.60 185.31,363.88 187.46,363.17 189.60,362.48 191.75,361.79 193.90,361.12 196.04,360.45 198.19,359.80 200.33,359.16 202.47,358.52 204.62,357.90 206.76,357.29 208.91,356.68 211.06,356.09 213.20,355.50 215.34,354.92 217.49,354.36 219.63,353.80 221.78,353.25 223.92,352.71 226.07,352.17 228.22,351.65 230.36,351.13 232.50,350.62 234.65,350.12 236.79,349.63 238.94,349.15 241.09,348.67 243.23,348.20 245.38,347.74 247.52,347.29 249.67,346.85 251.81,346.41 253.95,345.98 256.10,345.55 258.25,345.14 260.39,344.73 262.54,344.32 264.68,343.93 266.82,343.54 268.97,343.16 271.12,342.78 273.26,342.41 275.41,342.05 277.55,341.69 279.70,341.34 281.84,341.00 283.99,340.66 286.13,340.33 288.27,340.00 290.42,339.68 292.56,339.36 294.71,339.05 296.86,338.75 299.00,338.45 301.15,338.16 303.29,337.87 305.44,337.58 307.58,337.30 309.73,337.03 311.87,336.76 314.02,336.50 316.16,336.24 318.31,335.98 320.45,335.73 322.60,335.48 324.74,335.24 326.89,335.00 329.03,334.77 331.18,334.54 333.32,334.31 335.47,334.09 337.61,333.87 339.75,333.65 341.90,333.44 344.05,333.23 346.19,333.02 348.34,332.82 350.48,332.62 352.62,332.42 354.77,332.23 356.92,332.04 359.06,331.85 361.21,331.66 363.35,331.48 365.50,331.30 367.64,331.12 369.79,330.94 371.93,330.77 374.07,330.60 376.22,330.43 378.37,330.26 380.51,330.09 382.66,329.93 384.80,329.76" fill="none" stroke="#bfbf00" stroke-width="0.8"/>
<g fill="#bfbf00"><circle cx="41.60" cy="446.30" r="1.55"/><circle cx="58.76" cy="431.67" r="1.55"/><circle cx="75.92" cy="418.85" r="1.55"/><circle cx="93.08" cy="407.33" r="1.55"/><circle cx="110.24" cy="397.02" r="1.55"/><circle cx="127.40" cy="387.83" r="1.55"/><circle cx="144.56" cy="379.67" r="1.55"/><circle cx="161.72" cy="372.45" r="1.55"/><circle cx="178.88" cy="366.07" r="1.55"/><circle cx="196.04" cy="360.45" r="1.55"/><circle cx="213.20" cy="355.50" r="1.55"/><circle cx="230.36" cy="351.13" r="1.55"/><circle cx="247.52" cy="347.29" r="1.55"/><circle cx="264.68" cy="343.93" r="1.55"/><circle cx="281.84" cy="341.00" r="1.55"/><circle cx="299.00" cy="338.45" r="1.55"/><circle cx="316.16" cy="336.24" r="1.55"/><circle cx="333.32" cy="334.31" r="1.55"/><circle cx="350.48" cy="332.62" r="1.55"/><circle cx="367.64" cy="331.12" r="1.55"/><circle cx="384.80" cy="329.76" r="1.55"/></g>
<polyline points="41.60,446.30 43.75,443.32 45.89,441.12 48.04,438.94 50.18,436.79 52.33,434.67 54.47,432.58 56.62,430.51 58.76,428.47 60.91,426.45 63.05,424.46 65.20,422.49 67.34,420.55 69.48,418.64 71.63,416.75 73.78,414.88 75.92,413.04 78.06,411.22 80.21,409.43 82.36,407.66 84.50,405.91 86.65,404.19 88.79,402.48 90.94,400.81 93.08,399.15 95.22,397.52 97.37,395.91 99.52,394.32 101.66,392.75 103.81,391.21 105.95,389.68 108.09,388.18 110.24,386.70 112.38,385.24 114.53,383.80 116.68,382.38 118.82,380.97 120.97,379.59 123.11,378.23 125.25,376.89 127.40,375.57 129.55,374.26 131.69,372.98 133.84,371.71 135.98,370.46 138.12,369.23 140.27,368.02 142.41,366.82 144.56,365.65 146.71,364.48 148.85,363.34 151.00,362.21 153.14,361.10 155.29,360.01 157.43,358.93 159.57,357.87 161.72,356.82 163.87,355.79 166.01,354.78 168.16,353.78 170.30,352.79 172.44,351.82 174.59,350.86 176.74,349.92 178.88,348.99 181.02,348.08 183.17,347.17 185.31,346.29 187.46,345.41 189.60,344.55 191.75,343.70 193.90,342.86 196.04,342.04 198.19,341.22 200.33,340.42 202.47,339.63 204.62,338.85 206.76,338.09 208.91,337.33 211.06,336.59 213.20,335.85 215.34,335.13 217.49,334.41 219.63,333.71 221.78,333.01 223.92,332.33 226.07,331.65 228.22,330.99 230.36,330.33 232.50,329.68 234.65,329.05 236.79,328.42 238.94,327.80 241.09,327.19 243.23,326.59 245.38,326.00 247.52,325.41 249.67,324.84 251.81,324.27 253.95,323.71 256.10,323.16 258.25,322.62 260.39,322.09 262.54,321.56 264.68,321.04 266.82,320.53 268.97,320.03 271.12,319.54 273.26,319.05 275.41,318.57 277.55,318.10 279.70,317.63 281.84,317.17 283.99,316.72 286.13,316.28 288.27,315.84 290.42,315.41 292.56,314.98 294.71,314.57 296.86,314.15 299.00,313.75 301.15,313.35 303.29,312.96 305.44,312.57 307.58,312.19 309.73,311.81 311.87,311.44 314.02,311.07 316.16,310.71 318.31,310.36 320.45,310.01 322.60,309.67 324.74,309.33 326.89,308.99 329.03,308.66 331.18,308.34 333.32,308.02 335.47,307.70 337.61,307.39 339.75,307.08 341.90,306.78 344.05,306.48 346.19,306.18 348.34,305.89 350.48,305.60 352.62,305.32 354.77,305.04 356.92,304.76 359.06,304.49 361.21,304.22 363.35,303.95 365.50,303.68 367.64,303.42 369.79,303.16 371.93,302.91 374.07,302.65 376.22,302.40 378.37,302.15 380.51,301.91 382.66,301.66 384.80,301.42" fill="none" stroke="#000000" stroke-width="0.8"/>
<g fill="#000000"><circle cx="41.60" cy="446.30" r="1.55"/><circle cx="58.76" cy="428.47" r="1.55"/><circle cx="75.92" cy="413.04" r="1.55"/><circle cx="93.08" cy="399.15" r="1.55"/><circle cx="110.24" cy="386.70" r="1.55"/><circle cx="127.40" cy="375.57" r="1.55"/><circle cx="144.56" cy="365.65" r="1.55"/><circle cx="161.72" cy="356.82" r="1.55"/><circle cx="178.88" cy="348.99" r="1.55"/><circle cx="196.04" cy="342.04" r="1.55"/><circle cx="213.20" cy="335.85" r="1.55"/><circle cx="230.36" cy="330.33" r="1.55"/><circle cx="247.52" cy="325.41" r="1.55"/><circle cx="264.68" cy="321.04" r="1.55"/><circle cx="281.84" cy="317.17" r="1.55"/><circle cx="299.00" cy="313.75" r="1.55"/><circle cx="316.16" cy="310.71" r="1.55"/><circle cx="333.32" cy="308.02" r="1.55"/><circle cx="350.48" cy="305.60" r="1.55"/><circle cx="367.64" cy="303.42" r="1.55"/><circle cx="384.80" cy="301.42" r="1.55"/></g>
<line x1="41.5" x2="41.5" y1="254.2" y2="446.4" stroke="#8c8c8c" stroke-width="1.2"/>
<line x1="384.6" x2="384.6" y1="254.2" y2="446.4" stroke="#c8c8c8" stroke-width="1.1"/>
<line x1="40.9" x2="385.1" y1="254.2" y2="254.2" stroke="#969696" stroke-width="1.2"/>
<line x1="40.9" x2="385.1" y1="446.4" y2="446.4" stroke="#707070" stroke-width="1.1"/>
<path d="M41.5,424.28h3.6M41.5,402.96h3.6M41.5,381.64h3.6M41.5,360.32h3.6M41.5,339.00h3.6M41.5,317.68h3.6M41.5,296.36h3.6M41.5,275.04h3.6" stroke="#7a7a7a" stroke-width="0.9" fill="none"/>
<path d="M384.6,424.28h-3.4M384.6,402.96h-3.4M384.6,381.64h-3.4M384.6,360.32h-3.4M384.6,339.00h-3.4M384.6,317.68h-3.4M384.6,296.36h-3.4M384.6,275.04h-3.4" stroke="#5e5e5e" stroke-width="0.9" fill="none"/>
<path d="M127.40,446.4v-3.5M213.20,446.4v-3.5M299.00,446.4v-3.5" stroke="#c8c8c8" stroke-width="0.9" fill="none"/>
<path d="M127.40,254.2v3.2M213.20,254.2v3.2M299.00,254.2v3.2" stroke="#c8c8c8" stroke-width="0.9" fill="none"/>
<g class="tk"><text x="39.8" y="450.00" text-anchor="end">0</text>
<text x="39.8" y="428.68" text-anchor="end">0.002</text>
<text x="39.8" y="407.36" text-anchor="end">0.004</text>
<text x="39.8" y="386.04" text-anchor="end">0.006</text>
<text x="39.8" y="364.72" text-anchor="end">0.008</text>
<text x="39.8" y="343.40" text-anchor="end">0.01</text>
<text x="39.8" y="322.08" text-anchor="end">0.012</text>
<text x="39.8" y="300.76" text-anchor="end">0.014</text>
<text x="39.8" y="279.44" text-anchor="end">0.016</text><text x="41.60" y="458.40" text-anchor="middle">0</text>
<text x="127.40" y="458.40" text-anchor="middle">0.5</text>
<text x="213.20" y="458.40" text-anchor="middle">1</text>
<text x="299.00" y="458.40" text-anchor="middle">1.5</text>
<text x="384.80" y="458.40" text-anchor="middle">2</text></g>
<g class="lg"><circle cx="55.6" cy="263.00" r="1.4" fill="#0000ff"/>
<text x="66.2" y="266.90">Vgs=0V CM B</text>
<circle cx="55.6" cy="276.07" r="1.4" fill="#008000"/>
<text x="66.2" y="279.97">Vgs=0.2V CM B</text>
<circle cx="55.6" cy="289.14" r="1.4" fill="#ff0000"/>
<text x="66.2" y="293.04">Vgs=0.6V CM B</text>
<circle cx="55.6" cy="302.21" r="1.4" fill="#00bfbf"/>
<text x="66.2" y="306.11">Vgs=1.2V CM B</text>
<circle cx="55.6" cy="315.28" r="1.4" fill="#bf00bf"/>
<text x="66.2" y="319.18">Vgs=1.8V CM B</text>
<circle cx="55.6" cy="328.35" r="1.4" fill="#bfbf00"/>
<text x="66.2" y="332.25">Vgs=2.8V CM B</text>
<circle cx="55.6" cy="341.42" r="1.4" fill="#000000"/>
<text x="66.2" y="345.32">Vgs=3.4V CM B</text>
<line x1="140.9" x2="158.8" y1="261.40" y2="261.40" stroke="#0000ff" stroke-width="0.9"/>
<text x="160.7" y="265.30">Vgs=0V PKI method</text>
<line x1="140.9" x2="158.8" y1="274.47" y2="274.47" stroke="#008000" stroke-width="0.9"/>
<text x="160.7" y="278.37">Vgs=0.2V PKI method</text>
<line x1="140.9" x2="158.8" y1="287.54" y2="287.54" stroke="#ff0000" stroke-width="0.9"/>
<text x="160.7" y="291.44">Vgs=0.6V PKI method</text>
<line x1="140.9" x2="158.8" y1="300.61" y2="300.61" stroke="#00bfbf" stroke-width="0.9"/>
<text x="160.7" y="304.51">Vgs=1.2V PKI method</text>
<line x1="140.9" x2="158.8" y1="313.68" y2="313.68" stroke="#bf00bf" stroke-width="0.9"/>
<text x="160.7" y="317.58">Vgs=1.8V PKI method</text>
<line x1="263.0" x2="280.8" y1="265.70" y2="265.70" stroke="#bfbf00" stroke-width="0.9"/>
<text x="282.4" y="269.60">Vgs=2.8V PKI method</text>
<line x1="263.0" x2="280.8" y1="278.77" y2="278.77" stroke="#000000" stroke-width="0.9"/>
<text x="282.4" y="282.67">Vgs=3.4V PKI method</text></g>
<text class="al" x="213.5" y="470.80" text-anchor="middle">Vds(V)</text>
<text class="al" transform="translate(7.8,350.0) rotate(-90)" text-anchor="middle">Id(A)</text>
<text class="pl" x="209.8" y="487.40" text-anchor="middle">(b)</text>
</g>
</svg>
</body></html>
